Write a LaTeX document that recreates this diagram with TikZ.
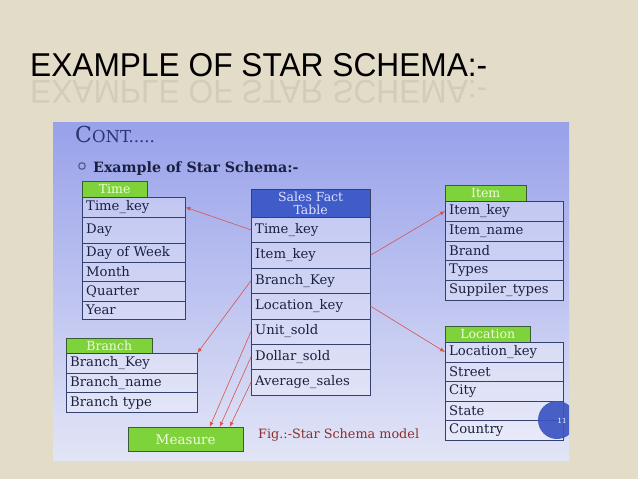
\documentclass[tikz,border=0pt]{standalone}
\usepackage{fontspec}
\setmainfont{DejaVu Serif}
\newfontfamily\titlefont{Liberation Sans}
\usetikzlibrary{arrows.meta,positioning}

\definecolor{canvas}{HTML}{E3DCC8}
\definecolor{slidetop}{HTML}{98A1EA}
\definecolor{slidebot}{HTML}{E2E5F6}
\definecolor{gridline}{HTML}{34406E}
\definecolor{inktext}{HTML}{1A2040}
\definecolor{contblue}{HTML}{2A3570}
\definecolor{labelgreen}{HTML}{7ED23A}
\definecolor{labeledge}{HTML}{3A5A3A}
\definecolor{labeltext}{HTML}{F0FBDC}
\definecolor{factblue}{HTML}{3F5CC9}
\definecolor{linkred}{HTML}{D9534C}
\definecolor{capred}{HTML}{8C2E2E}
\definecolor{pageblue}{HTML}{3B55C2}

\tikzset{
  cell/.style={draw=gridline, fill=white, fill opacity=.3, text opacity=1,
    text=inktext, anchor=north west, text width=#1, align=left,
    inner xsep=4pt, inner ysep=0pt, font=\fontsize{13.2}{15}\selectfont},
  tag/.style={draw=labeledge, fill=labelgreen, text=labeltext, anchor=north west,
    inner sep=0pt, font=\fontsize{12.5}{13}\selectfont},
  link/.style={draw=linkred, -{Latex[length=5pt,width=4pt]}, line width=.6pt},
}

\begin{document}
\begin{tikzpicture}[x=1pt,y=-1pt]
    \useasboundingbox[fill=canvas] (0,0) rectangle (638,479);

    % heading and its reflection
    \node[anchor=base west, inner sep=0pt, xscale=.96, font=\titlefont\fontsize{33}{36}\selectfont]
        (title) at (30,76) {EXAMPLE OF STAR SCHEMA:-};
    \node[anchor=base west, inner sep=0pt, xscale=.96, yscale=-1, opacity=.07,
        font=\titlefont\fontsize{33}{36}\selectfont] (titlemirror) at (30,80) {EXAMPLE OF STAR SCHEMA:-};

    % slide
    \shade[top color=slidetop, bottom color=slidebot] (53,122) rectangle (569,460);
    \node[anchor=base west, inner sep=0pt, text=contblue] (cont) at (75,142)
        {\fontsize{22}{24}\selectfont C\fontsize{16.5}{18}\selectfont ONT.....};
    \draw[draw=contblue!80, line width=1.2pt] (82,166) circle (3.3);
    \node[anchor=base west, inner sep=0pt, text=inktext, font=\bfseries\fontsize{14.2}{16}\selectfont]
        (bullet) at (93,172) {Example of Star Schema:-};

    % Time
    \node[tag, minimum width=65, minimum height=16] (timetag) at (82,181) {Time};
    \foreach \t/\y/\h [count=\i] in {Time\_key/197/20, Day/217/26, Day of Week/243/19,
                                     Month/262/19, Quarter/281/20, Year/301/18}{
        \node[cell=95, minimum height=\h] (time\i) at (82,\y) {\t};
    }

    % Sales fact table
    \node[draw=gridline, fill=factblue, text=white!88!blue, anchor=north west,
        minimum width=119, minimum height=28, inner sep=0pt, align=center,
        font=\fontsize{12.5}{12.5}\selectfont] (saleshead) at (251,189) {Sales Fact\\Table};
    \foreach \t [count=\i] in {Time\_key, Item\_key, Branch\_Key, Location\_key,
                               Unit\_sold, Dollar\_sold, Average\_sales}{
        \node[cell=111, minimum height=25.4] (sales\i) at (251,{217+25.4*(\i-1)}) {\t};
    }

    % Item
    \node[tag, minimum width=81, minimum height=16] (itemtag) at (445,185) {Item};
    \foreach \t [count=\i] in {Item\_key, Item\_name, Brand, Types, Suppiler\_types}{
        \node[cell=110, minimum height=19.8] (item\i) at (445,{201+19.8*(\i-1)}) {\t};
    }

    % Branch
    \node[tag, minimum width=86, minimum height=15] (branchtag) at (66,338) {Branch};
    \foreach \t [count=\i] in {Branch\_Key, Branch\_name, Branch type}{
        \node[cell=123, minimum height=19.7] (branch\i) at (66,{353+19.7*(\i-1)}) {\t};
    }

    % Location
    \node[tag, minimum width=85, minimum height=16] (loctag) at (445,326) {Location};
    \foreach \t [count=\i] in {Location\_key, Street, City, State, Country}{
        \node[cell=110, minimum height=19.6] (loc\i) at (445,{342+19.6*(\i-1)}) {\t};
    }

    % Measure
    \node[tag, minimum width=115, minimum height=24, font=\fontsize{13.5}{14}\selectfont]
        (measure) at (128,427) {Measure};

    \node[anchor=base west, inner sep=0pt, text=capred, font=\fontsize{12.8}{14}\selectfont]
        (caption) at (258,438) {Fig.:-Star Schema model};

    % page number
    \begin{scope}
        \clip (53,122) rectangle (569,460);
        \fill[pageblue, opacity=.92] (557,420) circle (19);
    \end{scope}
    \node[text=white, inner sep=0pt, font=\fontsize{7}{8}\selectfont] (pagenum) at (562,421) {11};

    % links
    \draw[link] (sales1.west) -- (time1.east);
    \draw[link] (sales2.east) -- (item1.west);
    \draw[link] (sales3.west) -- (branch1.north east);
    \draw[link] (sales4.east) -- (loc1.west);
    \draw[link] (sales5.west) -- ([xshift=24]measure.north);
    \draw[link] (sales6.west) -- ([xshift=34]measure.north);
    \draw[link] (sales7.west) -- ([xshift=44]measure.north);
\end{tikzpicture}
\end{document}
